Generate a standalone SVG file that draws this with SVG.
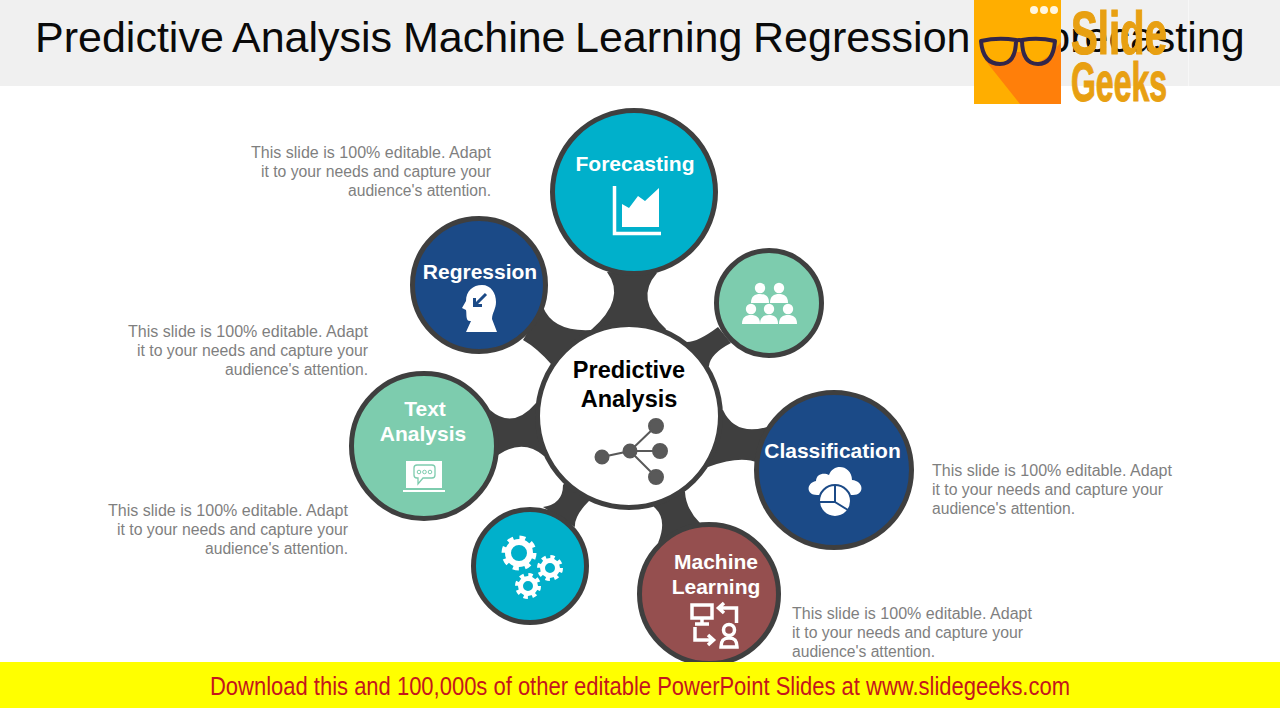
<svg xmlns="http://www.w3.org/2000/svg" width="1280" height="720" viewBox="0 0 1280 720">
<style>
text{font-family:"Liberation Sans",Arial,sans-serif}
.ring{stroke:#3f3f3f;stroke-width:5}
.lbl{fill:#fff;font-weight:700;font-size:21px;text-anchor:middle}
.desc{fill:#7f7f7f;font-size:16px}
.r{text-anchor:end}
.w{fill:#fff}
.wl{fill:none;stroke:#fff}
.logo{fill:#e8a012;font-weight:700;stroke:#e8a012;stroke-width:1.200}
</style>
<defs>
<g id="person"><circle cx="0" cy="-7" r="5.200" class="w"/><path d="M-9 8C-9 1-5-1 0-1S9 1 9 8Z" class="w"/></g>
</defs>
<rect width="1280" height="720" fill="#fff"/>
<g id="header">
<rect width="1280" height="86" fill="#f0f0f0"/>
<rect x="1188" width="1" height="86" fill="#f7f7f7"/>
<text y="52" font-size="43" fill="#0a0a0a"><tspan x="35">Predictive</tspan> <tspan x="232">Analysis</tspan> <tspan x="403">Machine</tspan> <tspan x="575">Learning</tspan> <tspan x="753">Regression</tspan> <tspan x="1020">Forecasting</tspan></text>
</g>
<g id="logo">
<rect x="974" y="0" width="87" height="104" fill="#ffae00"/>
<path d="M985 60L1001 66L1015 52L1022 52L1034 66L1050 55L1061 42V104H1020Z" fill="#ff7f0a"/>
<circle cx="1034" cy="10" r="4" fill="#fff6e0"/><circle cx="1044" cy="10" r="4" fill="#fff6e0"/><circle cx="1054" cy="10" r="4" fill="#fff6e0"/>
<g fill="none" stroke="#33264a" stroke-width="4" stroke-linejoin="round">
<path d="M981 41Q998 37 1016 40Q1016 64 1000 64Q983 64 981 41Z"/>
<path d="M1055 41Q1038 37 1022 40Q1022 64 1038 64Q1053 64 1055 41Z"/>
<path d="M1016 41Q1019 39 1022 41"/>
</g>
<text class="logo" x="1071" y="54" font-size="62" textLength="96" lengthAdjust="spacingAndGlyphs">Slide</text>
<text class="logo" x="1071" y="101" font-size="56" textLength="96" lengthAdjust="spacingAndGlyphs">Geeks</text>
</g>
<g id="connectors" fill="#3f3f3f">
<path d="M607 272Q627 299 591 330L629 416L666 329Q634 299 657 273Z"/>
<path d="M543 307Q553 332 591 330L629 416L551 364Q537 348 523 340Z"/>
<path d="M718 327Q698 342 687 342L629 416L709 366Q710 354 731 343Z"/>
<path d="M490 410Q513 430 536 403L629 416L544 456Q523 438 498 455Z"/>
<path d="M543 507Q563 504 563 485L629 416L589 501Q574 516 575 527Z"/>
<path d="M767 427Q735 436 723 410L629 416L708 467Q741 455 758 463Z"/>
<path d="M700 523Q686 509 685 492L629 416L654 507Q668 519 658 543Z"/>
</g>
<g id="node-center">
<circle cx="629" cy="416" r="91.500" fill="#fff" class="ring"/>
<text x="629" y="378" font-size="23.500" font-weight="700" fill="#000" text-anchor="middle">Predictive</text>
<text x="629" y="407" font-size="23.500" font-weight="700" fill="#000" text-anchor="middle">Analysis</text>
<g fill="#595959" stroke="#595959" stroke-width="2">
<path d="M602 457L630 451L656 426M630 451H660M630 451L656 477" fill="none"/>
<circle cx="602" cy="457" r="6.500"/><circle cx="630" cy="451" r="6.500"/><circle cx="656" cy="426" r="7"/><circle cx="660" cy="451" r="7"/><circle cx="656" cy="477" r="7"/>
</g>
</g>
<g id="node-forecasting">
<circle cx="634" cy="192" r="81.500" fill="#00b0cb" class="ring"/>
<text class="lbl" x="635" y="171">Forecasting</text>
<path d="M614.500 186V233.500H661" class="wl" stroke-width="3.500"/>
<path d="M622 204L629 208L638 196L645 201L659 188V227H622Z" class="w"/>
</g>
<g id="node-regression">
<circle cx="479" cy="285" r="66.500" fill="#1b4a87" class="ring"/>
<text class="lbl" x="480" y="279">Regression</text>
<path d="M482 285C491 285 496 293 496 302C496 309 492 313 492 319L497 332H466L471 321C465 322 467 314 466 310L462 308L466 301C466 291 473 285 482 285Z" class="w"/>
<path d="M486 294L476 304M474.500 298V305.500H482" fill="none" stroke="#1b4a87" stroke-width="3"/>
</g>
<g id="node-people">
<circle cx="769" cy="303" r="52.500" fill="#7dccae" class="ring"/>
<use href="#person" x="760" y="295"/><use href="#person" x="779" y="295"/>
<use href="#person" x="751" y="316"/><use href="#person" x="769" y="316"/><use href="#person" x="788" y="316"/>
</g>
<g id="node-classification">
<circle cx="834" cy="470" r="77.500" fill="#1b4a87" class="ring"/>
<text class="lbl" x="832.500" y="458">Classification</text>
<path d="M817 495C806 495 806 483 816 481C816 474 824 472 829 475C834 462 852 466 852 480C864 481 865 495 853 495Z" class="w"/>
<circle cx="835" cy="501" r="16" fill="#fff" stroke="#1b4a87" stroke-width="2"/>
<path d="M835 486V502L848 510M835 502H820" fill="none" stroke="#1b4a87" stroke-width="2"/>
</g>
<g id="node-machine-learning">
<circle cx="709" cy="594" r="69.500" fill="#954f4f" class="ring"/>
<text class="lbl" x="716" y="569">Machine</text>
<text class="lbl" x="716" y="594">Learning</text>
<g class="wl" stroke-width="3.500">
<rect x="692" y="605" width="20" height="13"/>
<path d="M702 618V623M695 624H709M736.500 623V608H720M724 603L718.500 608L724 613M695 627V640H712M708 635L713.500 640L708 645"/>
<circle cx="729" cy="630" r="5.500"/>
<path d="M721 647C721 640 724 638 729 638S737 640 737 647Z"/>
</g>
</g>
<g id="node-gears">
<circle cx="530" cy="566" r="56.500" fill="#00b0cb" class="ring"/>
<g class="wl">
<circle cx="519" cy="553" r="11" stroke-width="6"/><circle cx="519" cy="553" r="15" stroke-width="5" stroke-dasharray="5.800 5.980"/>
<circle cx="550" cy="568" r="7.500" stroke-width="5"/><circle cx="550" cy="568" r="11" stroke-width="4" stroke-dasharray="4.300 4.340"/>
<circle cx="528" cy="586" r="7.500" stroke-width="5"/><circle cx="528" cy="586" r="11" stroke-width="4" stroke-dasharray="4.300 4.340"/>
</g>
</g>
<g id="node-text-analysis">
<circle cx="424" cy="446" r="72.500" fill="#7dccae" class="ring"/>
<text class="lbl" x="425" y="416">Text</text>
<text class="lbl" x="423" y="441">Analysis</text>
<rect x="406" y="461" width="36" height="27" class="w"/>
<rect x="403" y="490" width="42" height="2" class="w"/>
<path d="M417 465H432Q435 465 435 468V475Q435 478 432 478H423L418 484V478H417Q414 478 414 475V468Q414 465 417 465Z" fill="none" stroke="#7dccae" stroke-width="1.300"/>
<g fill="none" stroke="#7dccae" stroke-width="1"><circle cx="419" cy="472" r="1.800"/><circle cx="424.500" cy="472" r="1.800"/><circle cx="430" cy="472" r="1.800"/></g>
</g>
<g id="descriptions" class="desc">
<g class="r"><text x="491" y="158" textLength="240" lengthAdjust="spacingAndGlyphs">This slide is 100% editable. Adapt</text><text x="491" y="177" textLength="230" lengthAdjust="spacingAndGlyphs">it to your needs and capture your</text><text x="491" y="196" textLength="143" lengthAdjust="spacingAndGlyphs">audience's attention.</text></g>
<g class="r"><text x="368" y="337" textLength="240" lengthAdjust="spacingAndGlyphs">This slide is 100% editable. Adapt</text><text x="368" y="356" textLength="231" lengthAdjust="spacingAndGlyphs">it to your needs and capture your</text><text x="368" y="375" textLength="143" lengthAdjust="spacingAndGlyphs">audience's attention.</text></g>
<g class="r"><text x="348" y="516" textLength="240" lengthAdjust="spacingAndGlyphs">This slide is 100% editable. Adapt</text><text x="348" y="535" textLength="231" lengthAdjust="spacingAndGlyphs">it to your needs and capture your</text><text x="348" y="554" textLength="143" lengthAdjust="spacingAndGlyphs">audience's attention.</text></g>
<text x="932" y="476" textLength="240" lengthAdjust="spacingAndGlyphs">This slide is 100% editable. Adapt</text><text x="932" y="495" textLength="231" lengthAdjust="spacingAndGlyphs">it to your needs and capture your</text><text x="932" y="514" textLength="143" lengthAdjust="spacingAndGlyphs">audience's attention.</text>
<text x="792" y="619" textLength="240" lengthAdjust="spacingAndGlyphs">This slide is 100% editable. Adapt</text><text x="792" y="638" textLength="231" lengthAdjust="spacingAndGlyphs">it to your needs and capture your</text><text x="792" y="657" textLength="143" lengthAdjust="spacingAndGlyphs">audience's attention.</text>
</g>
<g id="footer">
<rect y="662" width="1280" height="46" fill="#ffff00"/>
<text x="210" y="695" font-size="26" fill="#c4161c" textLength="860" lengthAdjust="spacingAndGlyphs">Download this and 100,000s of other editable PowerPoint Slides at www.slidegeeks.com</text>
</g>
</svg>
